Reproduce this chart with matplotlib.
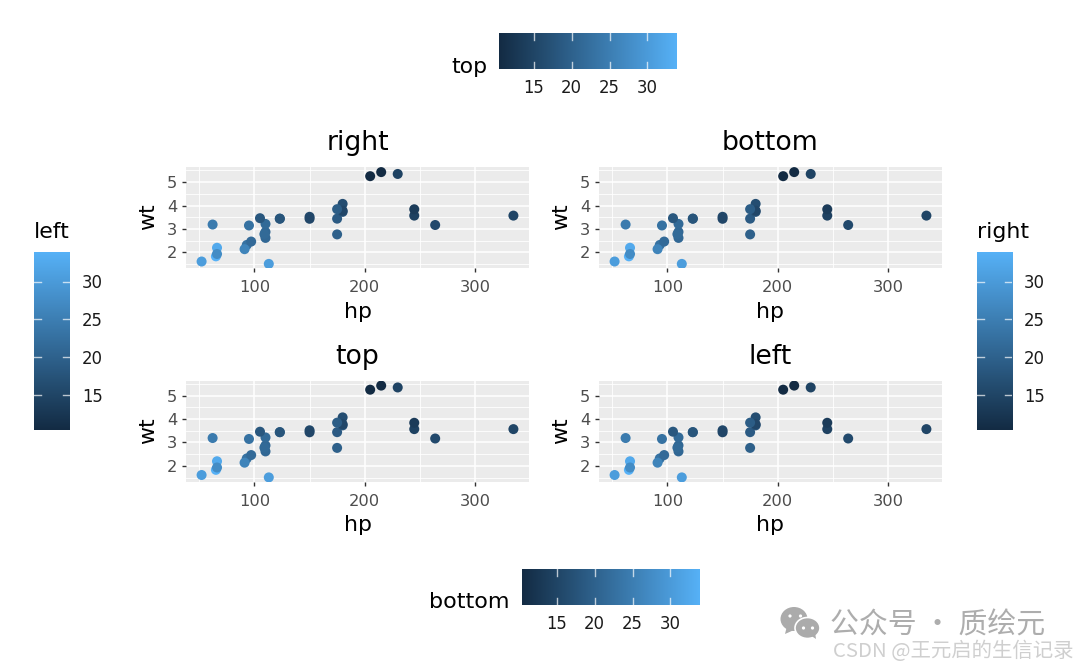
import numpy as np
import matplotlib.pyplot as plt
from matplotlib.colors import LinearSegmentedColormap
from matplotlib.patches import Ellipse, Polygon

# mtcars columns
hp = [110, 110, 93, 110, 175, 105, 245, 62, 95, 123, 123, 180, 180, 180, 205, 215,
      230, 66, 52, 65, 97, 150, 150, 245, 175, 66, 91, 113, 264, 175, 335, 109]
wt = [2.62, 2.875, 2.32, 3.215, 3.44, 3.46, 3.57, 3.19, 3.15, 3.44, 3.44, 4.07, 3.73, 3.78,
      5.25, 5.424, 5.345, 2.2, 1.615, 1.835, 2.465, 3.52, 3.435, 3.84, 3.845, 1.935,
      2.14, 1.513, 3.17, 2.77, 3.57, 2.78]
mpg = [21, 21, 22.8, 21.4, 18.7, 18.1, 14.3, 24.4, 22.8, 19.2, 17.8, 16.4, 17.3, 15.2,
       10.4, 10.4, 14.7, 32.4, 30.4, 33.9, 21.5, 15.5, 15.2, 13.3, 19.2, 27.3, 26, 30.4,
       15.8, 19.7, 15, 21.4]

panel_titles = ['right', 'bottom', 'top', 'left']
x_ticks = [100, 200, 300]
x_minor = [50, 150, 250]
y_ticks = [2, 3, 4, 5]
y_minor = [1.5, 2.5, 3.5, 4.5, 5.5]
bar_ticks = [15, 20, 25, 30]

W, H = 1080, 667
cmap = LinearSegmentedColormap.from_list('ggblue', ['#132B43', '#56B1F7'])
vmin, vmax = min(mpg), max(mpg)

fig = plt.figure(figsize=(W / 100, H / 100), dpi=100)


def box(x0, y0, x1, y1):
    # pixel box (top-left origin) -> figure fractions
    return [x0 / W, 1 - y1 / H, (x1 - x0) / W, (y1 - y0) / H]


def label(x, y, s, **kw):
    fig.text(x / W, 1 - y / H, s, va='center', **kw)


# the four panels
panels = [(186, 167.5), (599, 167.5), (186, 381), (599, 381)]
for (px, py), title in zip(panels, panel_titles):
    ax = fig.add_axes(box(px, py, px + 343, py + 101))
    ax.set_facecolor('#EBEBEB')
    for side in ax.spines.values():
        side.set_visible(False)
    ax.set_axisbelow(True)
    ax.set_xticks(x_ticks)
    ax.set_yticks(y_ticks)
    ax.set_xticks(x_minor, minor=True)
    ax.set_yticks(y_minor, minor=True)
    ax.grid(which='major', color='white', lw=1.15)
    ax.grid(which='minor', color='white', lw=0.6)
    ax.tick_params(which='minor', length=0)
    ax.tick_params(which='major', length=3.2, width=1.0, color='#333333',
                   labelcolor='#4D4D4D', labelsize=11.7)
    ax.tick_params(axis='x', which='major', pad=5.2)
    ax.tick_params(axis='y', which='major', pad=3)
    for t in ax.get_yticklabels():
        t.set_verticalalignment('center_baseline')
    ax.scatter(hp, wt, c=mpg, cmap=cmap, vmin=vmin, vmax=vmax, s=52, linewidths=0, zorder=3)
    ax.set_xlim(37.85, 349.15)
    ax.set_ylim(1.317, 5.62)
    label(px + 171.5, py - 24.5, title, fontsize=19.3, ha='center')
    label(px + 171.5, py + 144, 'hp', fontsize=15.8, ha='center')
    label(px - 38, py + 49.5, 'wt', fontsize=15.8, ha='center', rotation=90)


# colour bars drawn from the mpg range
def colorbar(x0, y0, x1, y1, vertical):
    ax = fig.add_axes(box(x0, y0, x1, y1))
    grad = np.linspace(vmin, vmax, 256)
    if vertical:
        ax.imshow(grad[:, None], cmap=cmap, origin='lower', aspect='auto',
                  extent=[0, 1, vmin, vmax])
        for t in bar_ticks:
            ax.plot([0, 0.2], [t, t], color='white', lw=1, alpha=0.7)
            ax.plot([0.8, 1], [t, t], color='white', lw=1, alpha=0.7)
        ax.set_xlim(0, 1)
        ax.set_ylim(vmin, vmax)
    else:
        ax.imshow(grad[None, :], cmap=cmap, aspect='auto',
                  extent=[vmin, vmax, 0, 1])
        for t in bar_ticks:
            ax.plot([t, t], [0, 0.2], color='white', lw=1, alpha=0.7)
            ax.plot([t, t], [0.8, 1], color='white', lw=1, alpha=0.7)
        ax.set_xlim(vmin, vmax)
        ax.set_ylim(0, 1)
    ax.axis('off')
    return ax


def bar_ticklabels(ax, vertical):
    for t in bar_ticks:
        if vertical:
            ax.annotate(str(t), (1, t), xycoords=('axes fraction', 'data'),
                        xytext=(8.5, -1), textcoords='offset points',
                        fontsize=11.9, color='#1a1a1a', va='center', ha='left')
        else:
            ax.annotate(str(t), (t, 0), xycoords=('data', 'axes fraction'),
                        xytext=(0, -13.5), textcoords='offset points',
                        fontsize=11.9, color='#1a1a1a', va='center', ha='center')


top = colorbar(499, 33, 677, 69, False)
bottom = colorbar(522, 569, 700, 605, False)
left = colorbar(34, 252, 70, 430, True)
right = colorbar(977, 252, 1012, 430, True)
bar_ticklabels(top, False)
bar_ticklabels(bottom, False)
bar_ticklabels(left, True)
bar_ticklabels(right, True)

label(487.5, 67, 'top', fontsize=15.8, ha='right')
label(509.5, 602, 'bottom', fontsize=16, ha='right')
label(34, 232, 'left', fontsize=15.8, ha='left')
label(977, 232, 'right', fontsize=15.8, ha='left')

# watermark
over = fig.add_axes([0, 0, 1, 1], zorder=10)
over.set_xlim(0, W)
over.set_ylim(H, 0)
over.axis('off')
over.patch.set_alpha(0)
over.add_patch(Ellipse((794, 619), 27, 24, color='#ABABAB', lw=0))
over.add_patch(Polygon([[787, 626], [785, 634], [794, 630]], color='#ABABAB', lw=0))
over.add_patch(Ellipse((807.5, 628), 25, 21, facecolor='#ABABAB', edgecolor='white', lw=1.2))
over.add_patch(Polygon([[810, 635], [816, 639], [815, 632]], color='#ABABAB', lw=0))
for ex, ey in [(790, 616), (800.5, 616), (803.5, 628), (812.5, 628)]:
    over.add_patch(Ellipse((ex, ey), 3.2, 3.2, color='white', lw=0))
cjk = ['Noto Sans CJK SC', 'DejaVu Sans']
label(830, 625.5, '公众号 · 质绘元', fontsize=20.8, color='#ADADAD', ha='left', family=cjk, zorder=11)
label(833, 651, 'CSDN @王元启的生信记录', fontsize=14.7, color='#CFCFCF', ha='left',
      family=cjk, zorder=11)

fig.savefig('out.png', dpi=100)
